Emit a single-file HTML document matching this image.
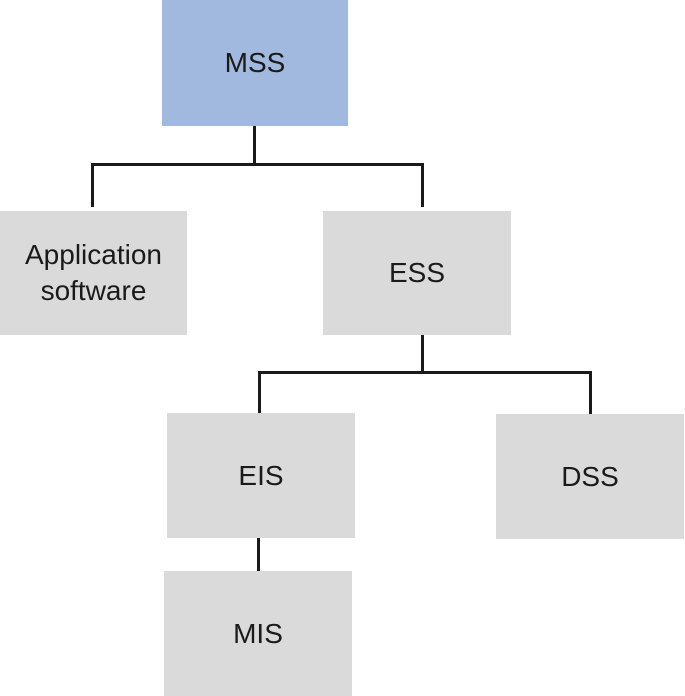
<!DOCTYPE html>
<html><head><style>
body{margin:0;width:685px;height:696px;background:#fff;position:relative;overflow:hidden;font-family:"Liberation Sans",sans-serif;}
.b{position:absolute;background:#dadada;display:flex;align-items:center;justify-content:center;text-align:center;font-size:28px;color:#1a1a1a;line-height:36px;}
.l{position:absolute;background:#1a1a1a;}
</style></head><body>
<div class="b" style="left:162px;top:0;width:186px;height:126px;background:#a1b9de;">MSS</div>
<div class="b" style="left:0;top:211px;width:187px;height:124px;">Application<br>software</div>
<div class="b" style="left:323px;top:211px;width:188px;height:124px;">ESS</div>
<div class="b" style="left:167px;top:413px;width:188px;height:125px;">EIS</div>
<div class="b" style="left:496px;top:414px;width:188px;height:125px;">DSS</div>
<div class="b" style="left:164px;top:571px;width:188px;height:125px;">MIS</div>
<div class="l" style="left:253px;top:126px;width:3px;height:40px;"></div>
<div class="l" style="left:91px;top:163px;width:333px;height:3px;"></div>
<div class="l" style="left:91px;top:163px;width:3px;height:44px;"></div>
<div class="l" style="left:421px;top:163px;width:3px;height:44px;"></div>
<div class="l" style="left:421px;top:335px;width:3px;height:38px;"></div>
<div class="l" style="left:258px;top:371px;width:334px;height:3px;"></div>
<div class="l" style="left:258px;top:371px;width:3px;height:42px;"></div>
<div class="l" style="left:589px;top:371px;width:3px;height:43px;"></div>
<div class="l" style="left:257px;top:538px;width:3px;height:33px;"></div>
</body></html>
